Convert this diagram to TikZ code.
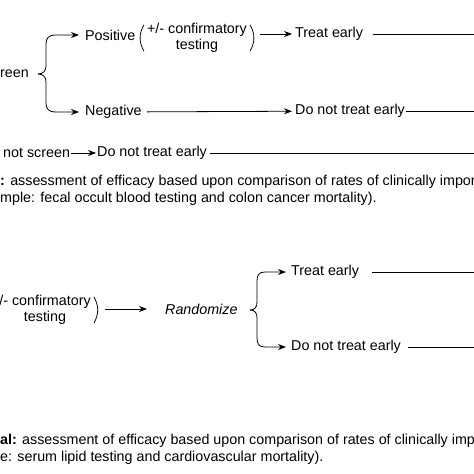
\documentclass[tikz,border=0pt]{standalone}
\usepackage{fontspec}
\setmainfont{Liberation Sans}
\usetikzlibrary{arrows.meta}
\tikzset{
	lbl/.style={inner sep=0pt, anchor=west, font=\fontsize{14.3}{16.5}\selectfont},
	arr/.style={-{Stealth[length=8pt, width=6pt]}, line width=0.8pt},
	rule/.style={line width=0.8pt},
	paren/.style={line width=0.8pt},
}

\begin{document}
\begin{tikzpicture}[x=1pt, y=-1pt]
		\useasboundingbox (0,0) rectangle (474,474);
		\coordinate (rim) at (480,0);
		\node[lbl] (scr) at (0,74) {reen};
		\coordinate (brT) at (38,74);
		\node[lbl] (pos) at (85,35) {Positive};
		\node[lbl, anchor=center, align=center] (conf1) at (197,38) {+/- confirmatory\\testing};
		\node[lbl] (te1) at (295,34) {Treat early};
		\node[lbl] (neg) at (85,112) {Negative};
		\node[lbl] (dn1) at (295,111) {Do not treat early};
		\node[lbl] (dns) at (3,153) {not screen};
		\node[lbl] (dn2) at (97,153) {Do not treat early};
		\node[lbl] (cap1a) at (0,182) {\textbf{:} assessment of efficacy based upon comparison of rates of clinically impor};
		\node[lbl] (cap1b) at (0,199) {mple: fecal occult blood testing and colon cancer mortality).};
		\draw[arr, shorten >=6pt] (brT) .. controls (43,74) and (46,71) .. (46,66) -- (46,44) .. controls (46,38) and (49,35) .. (55,35) -- (pos.west);
		\draw[arr, shorten >=6pt] (brT) .. controls (43,74) and (46,77) .. (46,82) -- (46,103) .. controls (46,109) and (49,112) .. (55,112) -- (neg.west);
		\draw[paren] ([xshift=-3pt, yshift=-2pt]conf1.north west) to[bend right=30] ([xshift=-3pt, yshift=2pt]conf1.south west);
		\draw[paren] ([xshift=3pt, yshift=-2pt]conf1.north east) to[bend left=30] ([xshift=3pt, yshift=2pt]conf1.south east);
		\draw[arr, shorten <=13pt, shorten >=3pt] (conf1.east |- te1) -- (te1);
		\draw[arr, shorten <=5pt, shorten >=3pt] (neg) -- (dn1);
		\draw[arr, shorten <=1pt, shorten >=1pt] (dns) -- (dn2);
		\draw[rule, shorten <=10pt] (te1) -- (te1 -| rim);
		\draw[rule, shorten <=1pt] (dn1) -- (dn1 -| rim);
		\draw[rule, shorten <=3pt] (dn2) -- (dn2 -| rim);

		\node[lbl, anchor=center, align=center] (conf2) at (45,310) {/- confirmatory\\testing};
		\node[lbl, font=\fontsize{14.3}{16.5}\selectfont\itshape] (rnd) at (165,309) {Randomize};
		\coordinate (brR) at (250,310);
		\node[lbl] (te2) at (291,272) {Treat early};
		\node[lbl] (dn3) at (291,347) {Do not treat early};
		\node[lbl] (cap2a) at (0,441) {\textbf{al:} assessment of efficacy based upon comparison of rates of clinically impo};
		\node[lbl] (cap2b) at (0,458) {e: serum lipid testing and cardiovascular mortality).};
		\draw[paren] ([xshift=3pt, yshift=-2pt]conf2.north east) to[bend left=30] ([xshift=3pt, yshift=2pt]conf2.south east);
		\draw[arr, shorten <=14pt, shorten >=18pt] (conf2.east |- rnd) -- (rnd);
		\draw[arr, shorten >=5pt] (brR) .. controls (255,310) and (257,307) .. (257,302) -- (257,281) .. controls (257,275) and (259,272) .. (265,272) -- (te2.west);
		\draw[arr, shorten >=5pt] (brR) .. controls (255,310) and (257,313) .. (257,318) -- (257,338) .. controls (257,344) and (259,347) .. (265,347) -- (dn3.west);
		\draw[rule, shorten <=13pt] (te2) -- (te2 -| rim);
		\draw[rule, shorten <=7pt] (dn3) -- (dn3 -| rim);
	\end{tikzpicture}
\end{document}
